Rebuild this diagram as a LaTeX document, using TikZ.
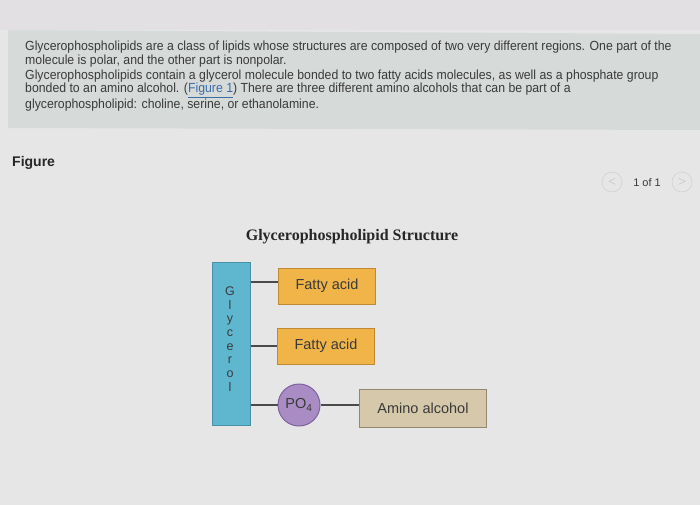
\documentclass[tikz,border=0pt]{standalone}
\usepackage{fontspec}
\setmainfont{Liberation Sans}
\newfontfamily\bodyfont[FakeStretch=0.93]{Liberation Sans}
\newfontfamily\titlefont{Liberation Serif}
\definecolor{pagebg}{HTML}{E6E6E7}
\definecolor{topbg}{HTML}{E2E0E2}
\definecolor{panelbg}{HTML}{D6DAD8}
\definecolor{txt}{HTML}{3A3A3A}
\definecolor{linkblue}{HTML}{3A6EA8}
\definecolor{glyfill}{HTML}{5FB7CF}
\definecolor{glydraw}{HTML}{4690A8}
\definecolor{fafill}{HTML}{F0B448}
\definecolor{fadraw}{HTML}{C08A35}
\definecolor{pofill}{HTML}{A98CC4}
\definecolor{podraw}{HTML}{7E62A0}
\definecolor{amfill}{HTML}{D6C8AA}
\definecolor{amdraw}{HTML}{968670}
\definecolor{bond}{HTML}{4A4A4A}
\tikzset{
  bodyline/.style={anchor=west, inner sep=0pt, text=txt, font=\bodyfont\fontsize{13.2}{14}\selectfont},
  fabox/.style={draw=fadraw, fill=fafill, line width=1pt, minimum width=97pt, minimum height=36pt, inner sep=0pt, font=\fontsize{14.5}{16}\selectfont, text=txt},
  ambox/.style={draw=amdraw, fill=amfill, line width=1pt, minimum width=127pt, minimum height=38pt, inner sep=0pt, font=\fontsize{14.5}{16}\selectfont, text=txt},
  pocirc/.style={circle, draw=podraw, fill=pofill, line width=1pt, minimum size=42pt, inner sep=0pt, font=\fontsize{14.5}{16}\selectfont, text=txt},
  glybox/.style={draw=glydraw, fill=glyfill, line width=1pt, minimum width=38pt, minimum height=163pt, inner sep=0pt},
  bondline/.style={draw=bond, line width=1.3pt},
  navcirc/.style={circle, draw=gray!35, line width=0.6pt, minimum size=20pt, inner sep=0pt, text=gray!60, font=\fontsize{11}{12}\selectfont}
}
\begin{document}
\begin{tikzpicture}[x=1pt,y=-1pt]
\useasboundingbox (0,0) rectangle (700,505);
\fill[pagebg] (0,0) rectangle (700,505);
\fill[topbg] (0,0) rectangle (700,30);
\fill[panelbg] (8,30) -- (700,34) -- (700,130) -- (8,128) -- cycle;

\node[bodyline] (l1) at (25,47) {Glycerophospholipids are a class of lipids whose structures are composed of two very different regions. One part of the};
\node[bodyline] (l2) at (25,61.5) {molecule is polar, and the other part is nonpolar.};
\node[bodyline] (l3) at (25,76) {Glycerophospholipids contain a glycerol molecule bonded to two fatty acids molecules, as well as a phosphate group};
\node[bodyline] (l4) at (25,90.5) {bonded to an amino alcohol. ({\color{linkblue}\underline{Figure 1}}) There are three different amino alcohols that can be part of a};
\node[bodyline] (l5) at (25,105) {glycerophospholipid: choline, serine, or ethanolamine.};

\node[anchor=west, inner sep=0pt, text=black!85, font=\bfseries\fontsize{14}{16}\selectfont] (fig) at (12,163) {Figure};
\node[navcirc] (prev) at (612,182) {$<$};
\node[inner sep=0pt, text=txt, font=\fontsize{11}{12}\selectfont] (page) at (647,183) {1 of 1};
\node[navcirc] (next) at (682,182) {$>$};

\node[inner sep=0pt, text=black!85, font=\titlefont\bfseries\fontsize{16}{18}\selectfont] (title) at (352,237) {Glycerophospholipid Structure};

\node[glybox] (gly) at (231,344) {};
\node[align=center, inner sep=0pt, text=txt, font=\fontsize{12.5}{13.7}\selectfont] (glytext) at (230,339) {G\\l\\y\\c\\e\\r\\o\\l};

\node[fabox] (fa1) at (327,286) {Fatty acid};
\node[fabox] (fa2) at (326,346) {Fatty acid};
\node[pocirc] (po) at (299,405) {PO\textsubscript{4}};
\node[ambox] (am) at (423,408) {Amino alcohol};

\draw[bondline] (gly.east |- 0,282) -- (fa1.west |- 0,282);
\draw[bondline] (gly.east |- fa2.west) -- (fa2.west);
\draw[bondline] (gly.east |- po.west) -- (po.west);
\draw[bondline] (po.east) -- (am.west |- po.east);
\end{tikzpicture}
\end{document}
